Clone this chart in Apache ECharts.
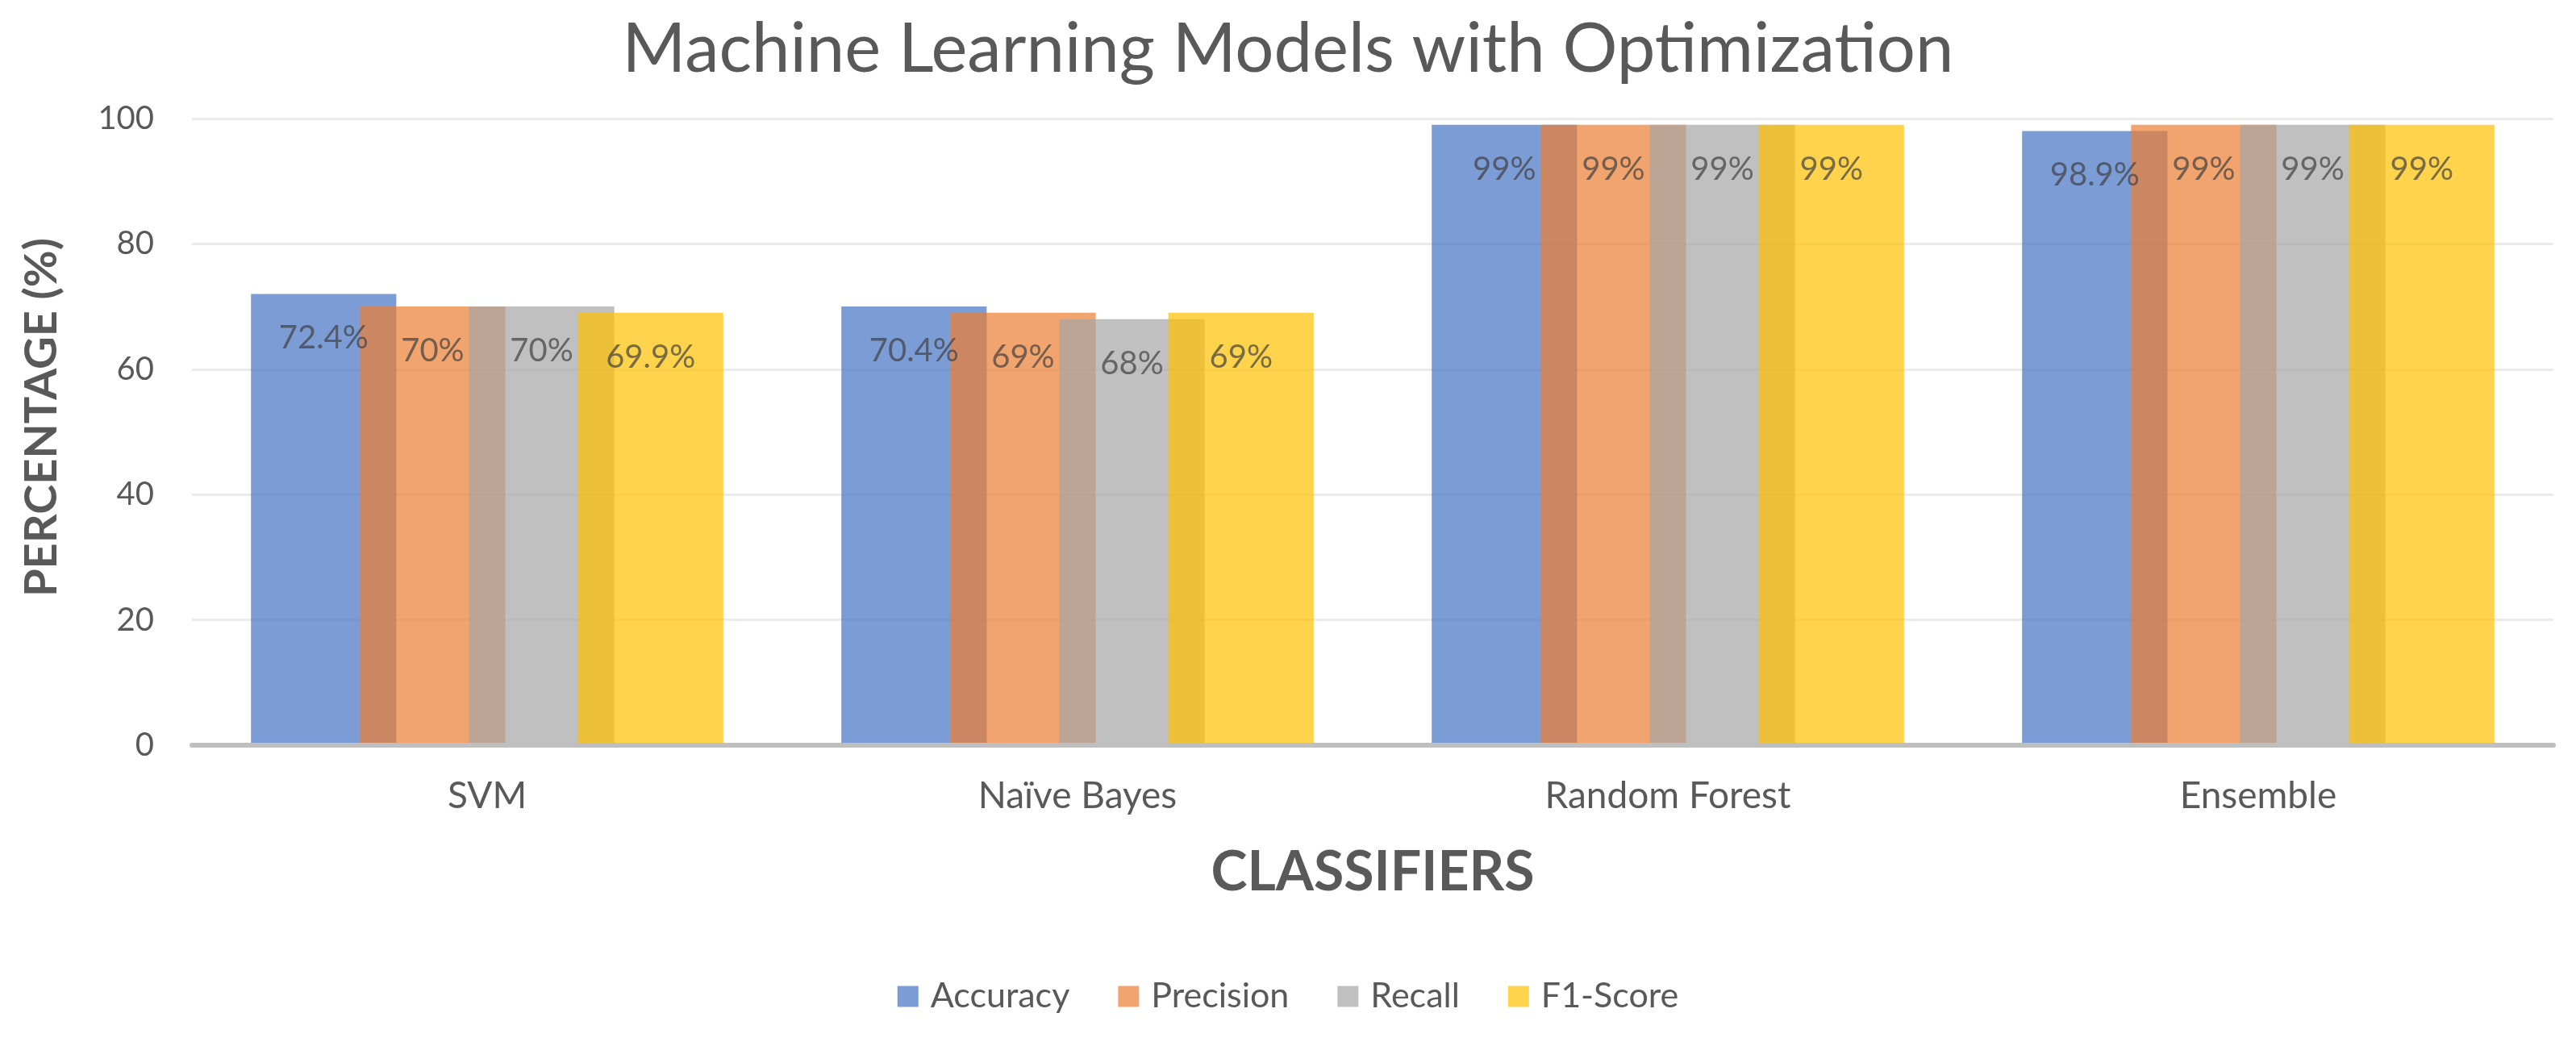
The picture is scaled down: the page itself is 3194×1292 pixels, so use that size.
<!DOCTYPE html>
<html>
<head>
<meta charset="utf-8">
<script src="https://cdn.jsdelivr.net/npm/echarts@6/dist/echarts.min.js"></script>
<style>
html,body{margin:0;padding:0;background:#fff;}
#chart{width:3194px;height:1292px;}
</style>
</head>
<body>
<div id="chart"></div>
<script>
const categories = ['SVM', 'Naïve Bayes', 'Random Forest', 'Ensemble'];
const seriesNames = ['Accuracy', 'Precision', 'Recall', 'F1-Score'];
const accuracy = [72, 70, 99, 98];
const precision = [70, 69, 99, 99];
const recall = [70, 68, 99, 99];
const f1Score = [69, 69, 99, 99];
const accuracyLabels = ['72.4%', '70.4%', '99%', '98.9%'];
const precisionLabels = ['70%', '69%', '99%', '99%'];
const recallLabels = ['70%', '68%', '99%', '99%'];
const f1ScoreLabels = ['69.9%', '69%', '99%', '99%'];
const yTicks = [0, 20, 40, 60, 80, 100];

const colors = ['#4472C4', '#ED7D31', '#A5A5A5', '#FFC000'];
const values = [accuracy, precision, recall, f1Score];
const labels = [accuracyLabels, precisionLabels, recallLabels, f1ScoreLabels];
const FONT = 'Lato';

const chart = echarts.init(document.getElementById('chart'));
chart.setOption({
  backgroundColor: '#ffffff',
  animation: false,
  title: {
    text: 'Machine Learning Models with Optimization',
    left: 'center',
    top: 14,
    textStyle: { fontFamily: FONT, fontSize: 85, fontWeight: 'normal', color: '#595959' }
  },
  legend: {
    data: seriesNames,
    bottom: 30,
    left: 'center',
    itemWidth: 26,
    itemHeight: 26,
    itemGap: 60,
    icon: 'rect',
    textStyle: { fontFamily: FONT, fontSize: 43, color: '#595959', padding: [0, 0, 0, 10] }
  },
  grid: { left: 238, right: 28, top: 147, bottom: 368, containLabel: false },
  xAxis: {
    type: 'category',
    data: categories,
    name: 'CLASSIFIERS',
    nameLocation: 'middle',
    nameGap: 124,
    nameTextStyle: { fontFamily: FONT, fontSize: 68, fontWeight: 'bold', color: '#595959' },
    axisLine: { show: true, lineStyle: { color: '#bfbfbf', width: 6 } },
    axisTick: { show: false },
    axisLabel: { fontFamily: FONT, fontSize: 46, color: '#595959', margin: 40 },
    z: 10
  },
  yAxis: {
    type: 'value',
    min: yTicks[0],
    max: yTicks[yTicks.length - 1],
    interval: yTicks[1] - yTicks[0],
    name: 'PERCENTAGE (%)',
    nameLocation: 'middle',
    nameGap: 158,
    nameRotate: 90,
    nameTextStyle: { fontFamily: FONT, fontSize: 56, fontWeight: 'bold', color: '#595959', padding: [0, 0, 0, 36] },
    axisLine: { show: false },
    axisTick: { show: false },
    axisLabel: { fontFamily: FONT, fontSize: 40, color: '#595959', margin: 47 },
    splitLine: { show: true, lineStyle: { color: '#ebebeb', width: 3 } }
  },
  series: seriesNames.map((name, i) => ({
    name: name,
    type: 'bar',
    data: values[i],
    barGap: '-25%',
    barCategoryGap: '20%',
    itemStyle: { color: colors[i], opacity: 0.7 },
    label: {
      show: true,
      position: 'insideTop',
      distance: 35,
      fontFamily: FONT,
      fontSize: 40,
      color: '#404040',
      formatter: (p) => labels[i][p.dataIndex]
    }
  }))
});
</script>
</body>
</html>
